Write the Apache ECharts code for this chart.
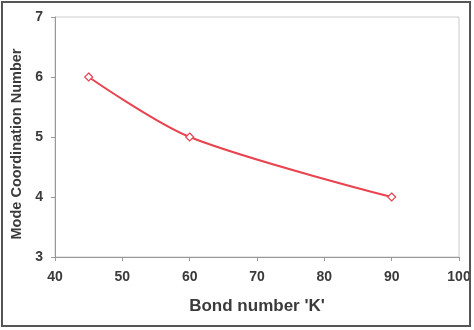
<!DOCTYPE html>
<html><head><meta charset="utf-8">
<script src="https://cdn.jsdelivr.net/npm/echarts@6/dist/echarts.min.js"></script>
<style>html,body{margin:0;padding:0;background:#fff}
#frame{position:absolute;left:1px;top:1px;width:470px;height:326px;border:2px solid #555;box-sizing:border-box}
#c{position:absolute;left:0;top:0;width:474px;height:330px}</style>
</head><body><div id="c"></div><div id="frame"></div>
<script>
const xValues = [45, 60, 90];
const yValues = [6, 5, 4];
const xTicks = [40, 50, 60, 70, 80, 90, 100];
const yTicks = [3, 4, 5, 6, 7];
const chart = echarts.init(document.getElementById('c'));
const font = {fontFamily: 'Liberation Sans, Arial, sans-serif', fontWeight: 'bold', fontSize: 14, color: '#3a3a3a'};
chart.setOption({
  animation: false,
  grid: {left: 55, right: 15, top: 17, bottom: 73, show: true, borderColor: '#ccc', borderWidth: 1},
  xAxis: {type: 'value', min: xTicks[0], max: xTicks[xTicks.length-1], interval: 10,
    name: "Bond number 'K'", nameLocation: 'middle', nameGap: 41,
    nameTextStyle: Object.assign({}, font, {fontSize: 17}),
    axisLine: {lineStyle: {color: '#999'}}, axisTick: {show: true, length: 4, lineStyle: {color: '#999'}},
    axisLabel: Object.assign({margin: 13}, font), splitLine: {show: false}},
  yAxis: {type: 'value', min: yTicks[0], max: yTicks[yTicks.length-1], interval: 1,
    name: 'Mode Coordination Number', nameLocation: 'middle', nameGap: 31,
    nameTextStyle: Object.assign({}, font, {fontSize: 14.5, padding: [0, 14, 0, 0]}),
    axisLine: {show: true, lineStyle: {color: '#999'}}, axisTick: {show: true, length: 4, lineStyle: {color: '#999'}},
    axisLabel: Object.assign({margin: 12}, font), splitLine: {show: false}},
  series: [{type: 'line', data: xValues.map((x, i) => [x, yValues[i]]), smooth: 0.3,
    symbol: 'diamond', symbolSize: 8, showAllSymbol: true,
    itemStyle: {color: '#fff', borderColor: '#e8434f', borderWidth: 1.2},
    lineStyle: {color: '#e8434f', width: 2}}]
});
</script></body></html>
